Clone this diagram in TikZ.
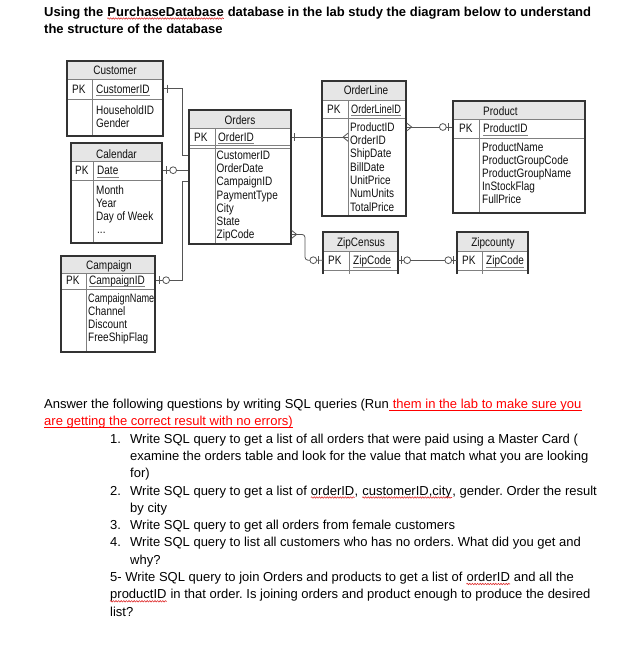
\documentclass[tikz,border=0pt]{standalone}
\usepackage{fontspec}
\setmainfont{Liberation Sans}
\newfontfamily\narrowf[FakeStretch=0.82]{Liberation Sans}
\newfontfamily\narrowerf[FakeStretch=0.75]{Liberation Sans}
\usetikzlibrary{decorations.pathmorphing}

\definecolor{boxline}{HTML}{333333}
\definecolor{rowline}{HTML}{808080}
\definecolor{hdr}{HTML}{E6E6E6}
\definecolor{conn}{HTML}{555555}
\definecolor{txt}{HTML}{111111}
\definecolor{wavered}{HTML}{E03030}
\definecolor{linkred}{HTML}{FF0000}

\tikzset{
  tablebox/.style={draw=boxline, line width=1.3pt, inner sep=0pt},
  rowsep/.style={draw=rowline, line width=0.8pt},
  ertext/.style={font=\narrowf\fontsize{12.2}{13}\selectfont, text=txt, inner sep=0pt,
    anchor=base west, text height=8.6pt, text depth=0pt},
  ertextn/.style={ertext, font=\narrowerf\fontsize{12.2}{13}\selectfont},
  ertitle/.style={ertext, anchor=base},
  keyline/.style={draw=rowline, line width=0.9pt},
  conline/.style={draw=conn, line width=0.8pt},
  circmark/.style={draw=conn, line width=0.8pt, fill=white},
  body/.style={font=\frenchspacing\fontsize{13}{15}\selectfont, inner sep=0pt, anchor=base west},
  bodyb/.style={font=\frenchspacing\bfseries\fontsize{13}{15}\selectfont, inner sep=0pt, anchor=base west},
  redtxt/.style={text=linkred},
  wave/.style={draw=wavered, line width=0.6pt, decorate,
    decoration={snake, amplitude=0.7pt, segment length=2.6pt}},
  uline/.style={draw=linkred, line width=0.8pt},
}

% header fill + row lines: x1 x2 ytop yhead ypk ybot xdiv
\newcommand\ertable[7]{%
  \fill[hdr] (#1,#3) rectangle (#2,#4);
  \draw[rowsep] (#1,#4) -- (#2,#4);
  \draw[rowsep] (#1,#5) -- (#2,#5);
  \draw[rowsep] (#7,#4) -- (#7,#6);
}

\begin{document}
\begin{tikzpicture}[x=1pt,y=-1pt]
\useasboundingbox (0,0) rectangle (644,654);
\fill[white] (0,0) rectangle (644,654);

% ---------- title ----------
\node[bodyb] (t1) at (44,16) {Using the\ \mbox{}};
\node[bodyb] (t2) at (t1.base east) {PurchaseDatabase};
\node[bodyb] (t3) at (t2.base east) {\ database in the lab study the diagram below to understand};
\node[bodyb] (t4) at (44,33) {the structure of the database};
\draw[wave] ([yshift=-2.5pt]t2.base west) -- ([yshift=-2.5pt]t2.base east);

% ---------- Customer ----------
\ertable{67}{163}{61}{79}{99}{136}{92}
\node[tablebox, minimum width=96pt, minimum height=75pt] (cust) at (115,98.5) {};
\node[ertitle] (custT) at (115,74.5) {Customer};
\node[ertext] (custPK) at (72,93) {PK};
\node[ertext] (custid) at (96,93) {CustomerID};
\draw[keyline] ([yshift=-2.5pt]custid.base west) -- ([yshift=-2.5pt]custid.base east);
\node[ertext] (custhh) at (96,114.3) {HouseholdID};
\node[ertext] (custg) at (96,127.3) {Gender};

% ---------- Calendar ----------
\ertable{71}{162}{143}{161}{180}{243}{93}
\node[tablebox, minimum width=91pt, minimum height=100pt] (cal) at (116.5,193) {};
\node[ertitle] (calT) at (116.5,158.5) {Calendar};
\node[ertext] (calPK) at (75,174.5) {PK};
\node[ertext] (caldate) at (97,174.5) {Date};
\draw[keyline] ([yshift=-2.5pt]caldate.base west) -- ([yshift=-2.5pt]caldate.base east);
\node[ertext] (calm) at (96,194.5) {Month};
\node[ertext] (caly) at (96,207.5) {Year};
\node[ertext] (cald) at (96,220.5) {Day of Week};
\node[ertext] (calx) at (97,233) {...};

% ---------- Orders ----------
\ertable{189}{291}{110}{128}{145.5}{244}{215}
\draw[rowsep] (189,148) -- (291,148);
\node[tablebox, minimum width=102pt, minimum height=134pt] (ord) at (240,177) {};
\node[ertitle] (ordT) at (240,124.5) {Orders};
\node[ertext] (ordPK) at (194,141.5) {PK};
\node[ertext] (ordid) at (218,141.5) {OrderID};
\draw[keyline] ([yshift=-2pt]ordid.base west) -- ([yshift=-2pt]ordid.base east);
\node[ertext] (ordcust) at (216.5,159.5) {CustomerID};
\node[ertext] (orddate) at (216.5,172.7) {OrderDate};
\node[ertext] (ordcamp) at (216.5,185.9) {CampaignID};
\node[ertext] (ordpay) at (216.5,199.1) {PaymentType};
\node[ertext] (ordcity) at (216.5,212.3) {City};
\node[ertext] (ordstate) at (216.5,225.5) {State};
\node[ertext] (ordzip) at (216.5,238.7) {ZipCode};

% ---------- OrderLine ----------
\ertable{322}{406}{81}{100}{118}{216}{348}
\node[tablebox, minimum width=84pt, minimum height=135pt] (ol) at (364,148.5) {};
\node[ertitle] (olT) at (366,94.5) {OrderLine};
\node[ertext] (olPK) at (327,113) {PK};
\node[ertextn] (olid) at (351,113) {OrderLineID};
\draw[keyline] ([yshift=-2.5pt]olid.base west) -- ([yshift=-2.5pt]olid.base east);
\node[ertext] (olprod) at (350,131.3) {ProductID};
\node[ertext] (olord) at (350,144.6) {OrderID};
\node[ertext] (olship) at (350,157.9) {ShipDate};
\node[ertext] (olbill) at (350,171.2) {BillDate};
\node[ertext] (olunit) at (350,184.5) {UnitPrice};
\node[ertext] (olnum) at (350,197.8) {NumUnits};
\node[ertext] (oltot) at (350,211.1) {TotalPrice};

% ---------- Product ----------
\ertable{453}{585}{101}{119}{138}{213}{479}
\node[tablebox, minimum width=132pt, minimum height=112pt] (prod) at (519,157) {};
\node[ertext] (prodT) at (483,115.5) {Product};
\node[ertext] (prodPK) at (459,132.5) {PK};
\node[ertext] (prodid) at (483,132.5) {ProductID};
\draw[keyline] ([yshift=-2.5pt]prodid.base west) -- ([yshift=-2.5pt]prodid.base east);
\node[ertext] (prodn) at (482,151.3) {ProductName};
\node[ertext] (prodgc) at (482,164.3) {ProductGroupCode};
\node[ertext] (prodgn) at (482,177.3) {ProductGroupName};
\node[ertext] (prodst) at (482,190.3) {InStockFlag};
\node[ertext] (prodfp) at (482,203.3) {FullPrice};

% ---------- Campaign ----------
\ertable{61}{155}{256}{273}{289}{352}{86}
\node[tablebox, minimum width=94pt, minimum height=96pt] (camp) at (108,304) {};
\node[ertitle] (campT) at (109,269.5) {Campaign};
\node[ertext] (campPK) at (66,284.5) {PK};
\node[ertext] (campid) at (89,284.5) {CampaignID};
\draw[keyline] ([yshift=-2.2pt]campid.base west) -- ([yshift=-2.2pt]campid.base east);
\node[ertextn] (campn) at (88,302.3) {CampaignName};
\node[ertext] (campc) at (88,315.3) {Channel};
\node[ertext] (campd) at (88,328.3) {Discount};
\node[ertext] (campf) at (88,341.3) {FreeShipFlag};

% ---------- ZipCensus (cut off) ----------
\fill[hdr] (323,232) rectangle (398,251);
\draw[rowsep] (323,251) -- (398,251);
\draw[rowsep] (323,270) -- (398,270);
\draw[rowsep] (349,251) -- (349,274);
\draw[draw=boxline, line width=1.3pt] (323,274) -- (323,232) -- (398,232) -- (398,274);
\node[inner sep=0pt, minimum width=75pt, minimum height=42pt] (zc) at (360.5,253) {};
\node[ertitle] (zcT) at (361,246.5) {ZipCensus};
\node[ertext] (zcPK) at (328,264.5) {PK};
\node[ertext] (zczip) at (353,264.5) {ZipCode};
\draw[keyline] ([yshift=-2.5pt]zczip.base west) -- ([yshift=-2.5pt]zczip.base east);

% ---------- Zipcounty (cut off) ----------
\fill[hdr] (457,232) rectangle (528,251);
\draw[rowsep] (457,251) -- (528,251);
\draw[rowsep] (457,270) -- (528,270);
\draw[rowsep] (482,251) -- (482,274);
\draw[draw=boxline, line width=1.3pt] (457,274) -- (457,232) -- (528,232) -- (528,274);
\node[inner sep=0pt, minimum width=71pt, minimum height=42pt] (zco) at (492.5,253) {};
\node[ertitle] (zcoT) at (493,246.5) {Zipcounty};
\node[ertext] (zcoPK) at (462,264.5) {PK};
\node[ertext] (zcozip) at (486,264.5) {ZipCode};
\draw[keyline] ([yshift=-2.5pt]zcozip.base west) -- ([yshift=-2.5pt]zcozip.base east);

% ---------- connectors ----------
\coordinate (jx) at (182,0);
\coordinate (jz) at (305,0);
\coordinate (oldiv) at (348,0);

% Customer -> Orders
\draw[conline] (cust.east |- custid) -- (jx |- custid) -- (jx |- ordcust) -- (ord.west |- ordcust);
\draw[conline] ([xshift=4pt]cust.east |- custid) ++(0,-4) -- ++(0,8);

% Calendar -> Orders
\draw[conline] (cal.east |- caldate) -- (ord.west |- caldate);
\draw[conline] ([xshift=4pt]cal.east |- caldate) ++(0,-4) -- ++(0,8);
\draw[circmark] ([xshift=10.5pt]cal.east |- caldate) circle[radius=3.4pt];

% Campaign -> Orders
\draw[conline] (camp.east |- campid) -- (jx |- campid) -- (jx |- ordcamp) -- (ord.west |- ordcamp);
\draw[conline] ([xshift=4pt]camp.east |- campid) ++(0,-4) -- ++(0,8);
\draw[circmark] ([xshift=10.5pt]camp.east |- campid) circle[radius=3.4pt];

% Orders -> OrderLine
\draw[conline] (ord.east |- ordid) -- (oldiv |- ordid);
\draw[conline] ([xshift=3pt]ord.east |- ordid) ++(0,-4) -- ++(0,8);
\draw[conline] ([xshift=-5pt]oldiv |- ordid) -- ++(5,-4);
\draw[conline] ([xshift=-5pt]oldiv |- ordid) -- ++(5,4);

% OrderLine -> Product
\draw[conline] (ol.east |- olprod) -- (prod.west |- olprod);
\draw[conline] (ol.east |- olprod) ++(0,-4) -- ++(5,4) -- ++(-5,4);
\draw[circmark] ([xshift=-9.5pt]prod.west |- olprod) circle[radius=3.4pt];
\draw[conline] ([xshift=-4pt]prod.west |- olprod) ++(0,-4) -- ++(0,8);

% Orders -> ZipCensus
\draw[conline, rounded corners=3pt] (ord.east |- ordzip) -- (jz |- ordzip) -- (jz |- zczip) -- (zc.west |- zczip);
\draw[conline] (ord.east |- ordzip) ++(0,-4) -- ++(5,4) -- ++(-5,4);
\draw[circmark] ([xshift=-9.5pt]zc.west |- zczip) circle[radius=3.4pt];
\draw[conline] ([xshift=-4pt]zc.west |- zczip) ++(0,-4) -- ++(0,8);

% ZipCensus -> Zipcounty
\draw[conline] (zc.east |- zczip) -- (zco.west |- zczip);
\draw[conline] ([xshift=3pt]zc.east |- zczip) ++(0,-4) -- ++(0,8);
\draw[circmark] ([xshift=9pt]zc.east |- zczip) circle[radius=3.4pt];
\draw[circmark] ([xshift=-8.5pt]zco.west |- zczip) circle[radius=3.4pt];
\draw[conline] ([xshift=-3.5pt]zco.west |- zczip) ++(0,-4) -- ++(0,8);

% ---------- questions ----------
\node[body] (a1) at (44,408.5) {Answer the following questions by writing SQL queries (Run};
\node[body, redtxt] (a2) at (a1.base east) {\ them in the lab to make sure you};
\draw[uline] ([yshift=-2pt]a2.base west) -- ([yshift=-2pt]a2.base east);
\node[body, redtxt] (b1) at (44,425.8) {are getting the correct result with no errors)};
\draw[uline] ([yshift=-2pt]b1.base west) -- ([yshift=-2pt]b1.base east);

\node[body] (n1) at (110,443.1) {1.};
\node[body] (q1a) at (130,443.1) {Write SQL query to get a list of all orders that were paid using a Master Card (};
\node[body] (q1b) at (130,460.4) {examine the orders table and look for the value that match what you are looking};
\node[body] (q1c) at (130,477.7) {for)};

\node[body] (n2) at (110,495.0) {2.};
\node[body] (q2a) at (130,495.0) {Write SQL query to get a list of\ \mbox{}};
\node[body] (q2b) at (q2a.base east) {orderID};
\node[body] (q2c) at (q2b.base east) {,\ \mbox{}};
\node[body] (q2d) at (q2c.base east) {customerID,city};
\node[body] (q2e) at (q2d.base east) {, gender. Order the result};
\draw[wave] ([yshift=-2.5pt]q2b.base west) -- ([yshift=-2.5pt]q2b.base east);
\draw[wave] ([yshift=-2.5pt]q2d.base west) -- ([yshift=-2.5pt]q2d.base east);
\node[body] (q2f) at (130,512.3) {by city};

\node[body] (n3) at (110,529.6) {3.};
\node[body] (q3) at (130,529.6) {Write SQL query to get all orders from female customers};

\node[body] (n4) at (110,546.9) {4.};
\node[body] (q4a) at (130,546.9) {Write SQL query to list all customers who has no orders. What did you get and};
\node[body] (q4b) at (130,564.2) {why?};

\node[body] (q5a) at (110,581.5) {5- Write SQL query to join Orders and products to get a list of\ \mbox{}};
\node[body] (q5b) at (q5a.base east) {orderID};
\node[body] (q5c) at (q5b.base east) {\ and all the};
\draw[wave] ([yshift=-2.5pt]q5b.base west) -- ([yshift=-2.5pt]q5b.base east);
\node[body] (q5d) at (110,598.8) {productID};
\node[body] (q5e) at (q5d.base east) {\ in that order. Is joining orders and product enough to produce the desired};
\draw[wave] ([yshift=-2.5pt]q5d.base west) -- ([yshift=-2.5pt]q5d.base east);
\node[body] (q5f) at (110,616.1) {list?};
\end{tikzpicture}
\end{document}
